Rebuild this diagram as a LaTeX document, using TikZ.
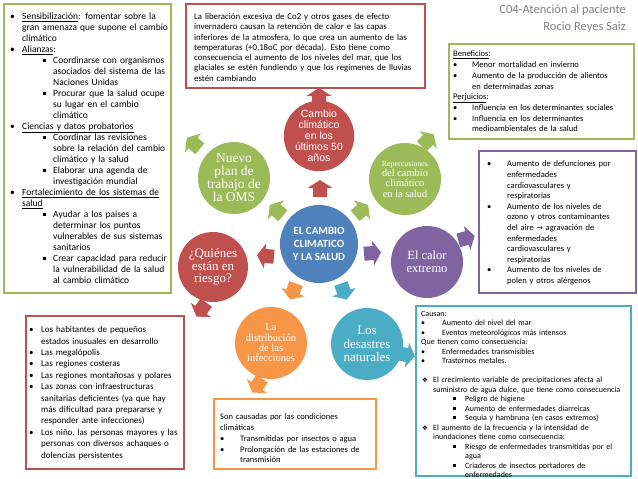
\documentclass[tikz,border=0pt]{standalone}
\usepackage{fontspec}
\setmainfont{Carlito}
\newfontfamily\tms{Liberation Serif}
\newfontfamily\arl{Liberation Sans}
\newfontfamily\djv{DejaVu Sans}
\definecolor{redc}{HTML}{C0504D}
\definecolor{grnc}{HTML}{9BBB59}
\definecolor{bluc}{HTML}{4F81BD}
\definecolor{purc}{HTML}{8064A2}
\definecolor{orac}{HTML}{F79646}
\definecolor{tealc}{HTML}{4BACC6}
\newcommand\lin[2]{\par\noindent\hspace*{#1pt}#2}
\newcommand\bul[1]{\makebox[#1pt][l]{\textbullet}}
\newcommand\sqb[1]{\makebox[#1pt][l]{\rule[1.3pt]{3pt}{3pt}}}
\newcommand\dia[1]{\makebox[#1pt][l]{\djv\fontsize{6.5}{6.5}\selectfont ❖}}
\tikzset{
  frame/.style={draw=#1,line width=1.8pt,fill=white,inner sep=0pt,anchor=north west},
  txt/.style={anchor=north west,inner sep=0pt,text width=#1},
  circ/.style={circle,fill=#1,text=white,inner sep=0pt,align=center},
  blkarr/.pic={\fill[#1] (-9,-7) -- (0,-7) -- (0,-12.5) -- (8,0) -- (0,12.5) -- (0,7) -- (-9,7) -- cycle;},
}
\begin{document}
\begin{tikzpicture}[x=1pt,y=1pt]
  \useasboundingbox (0,0) rectangle (638,-479);
  % arrows
  \pic[rotate=90] at (320,-188) {blkarr=redc};
  \pic[rotate=90] at (319,-96) {blkarr=redc};
  \pic[rotate=140] at (276,-210) {blkarr=grnc};
  \pic[rotate=140] at (193,-143) {blkarr=grnc};
  \pic[rotate=40] at (362,-210) {blkarr=grnc};
  \pic[rotate=45] at (428,-140) {blkarr=grnc};
  \pic[rotate=175] at (265,-256) {blkarr=redc};
  \pic[rotate=235] at (201,-310) {blkarr=redc};
  \pic[rotate=5] at (373,-253) {blkarr=purc};
  \pic[rotate=15] at (467,-238) {blkarr=purc};
  \pic[rotate=-110] at (293,-292) {blkarr=orac};
  \pic[rotate=-125] at (257,-386) {blkarr=orac};
  \pic[rotate=-70] at (344,-292) {blkarr=tealc};
  \pic[rotate=-10] at (407,-355) {blkarr=tealc};
  % circles
  \node[circ=bluc,minimum size=78,font=\bfseries\fontsize{11}{13}\selectfont] (salud) at (319,-244) {EL CAMBIO\\CLIMATICO\\Y LA SALUD};
  \node[circ=redc,minimum size=70,font=\arl\fontsize{10.5}{11}\selectfont] (ult) at (319,-136) {Cambio\\climático\\en los\\últimos 50\\años};
  \node[circ=grnc,minimum size=72,font=\tms\fontsize{13.5}{13}\selectfont] (oms) at (234,-178) {Nuevo\\plan de\\trabajo de\\la OMS};
  \node[circ=grnc,minimum size=72,font=\tms\fontsize{10.4}{10.3}\selectfont] (reper) at (405,-179) {{\fontsize{7.9}{10}\selectfont Repercusiones}\\del cambio\\climático\\en la salud};
  \node[circ=redc,minimum size=70,font=\tms\fontsize{13}{12.5}\selectfont] (riesgo) at (213,-267) {¿Quiénes\\están en\\riesgo?};
  \node[circ=purc,minimum size=72,font=\tms\fontsize{12.5}{13}\selectfont] (calor) at (427,-262) {El calor\\extremo};
  \node[circ=orac,minimum size=72,font=\tms\fontsize{10.5}{10.3}\selectfont] (infec) at (271,-343) {La\\distribución\\de las\\infecciones};
  \node[circ=tealc,minimum size=72,font=\tms\fontsize{13}{13.5}\selectfont] (desas) at (367,-344) {Los\\desastres\\naturales};
  % boxes
  \node[frame=grnc,minimum width=167,minimum height=289] (oms box) at (3,-3) {};
  \node[frame=redc,minimum width=239,minimum height=84] (ult box) at (185,-3) {};
  \node[frame=grnc,minimum width=185,minimum height=95] (reper box) at (448,-43) {};
  \node[frame=purc,minimum width=157,minimum height=142] (calor box) at (478,-150) {};
  \node[frame=redc,minimum width=158,minimum height=153] (riesgo box) at (25,-315) {};
  \node[frame=orac,minimum width=162,minimum height=70] (infec box) at (213,-398) {};
  \node[frame=tealc,minimum width=215,minimum height=170] (desas box) at (415,-305) {};
  % texts
  \node[anchor=north east,inner sep=0pt,align=right,text=black!50,font=\fontsize{12.5}{17}\selectfont] (title) at (626,-5) {C04-Atención al paciente\\Rocio Reyes Saiz};
  \node[txt=158pt,font=\fontsize{9.5}{11}\selectfont] (oms text) at (10,-8.5) {%
    \lin{0}{\bul{12}\underline{Sensibilización}: fomentar sobre la}
    \lin{12}{gran amenaza que supone el cambio}
    \lin{12}{climático}
    \lin{0}{\bul{12}\underline{Alianzas}:}
    \lin{33}{\sqb{10}Coordinarse con organismos}
    \lin{43}{asociados del sistema de las}
    \lin{43}{Naciones Unidas}
    \lin{33}{\sqb{10}Procurar que la salud ocupe}
    \lin{43}{su lugar en el cambio}
    \lin{43}{climático}
    \lin{0}{\bul{12}\underline{Ciencias y datos probatorios}}
    \lin{33}{\sqb{10}Coordinar las revisiones}
    \lin{43}{sobre la relación del cambio}
    \lin{43}{climático y la salud}
    \lin{33}{\sqb{10}Elaborar una agenda de}
    \lin{43}{investigación mundial}
    \lin{0}{\bul{12}\underline{Fortalecimiento de los sistemas de}}
    \lin{12}{\underline{salud}}
    \lin{33}{\sqb{10}Ayudar a los países a}
    \lin{43}{determinar los puntos}
    \lin{43}{vulnerables de sus sistemas}
    \lin{43}{sanitarios}
    \lin{33}{\sqb{10}Crear capacidad para reducir}
    \lin{43}{la vulnerabilidad de la salud}
    \lin{43}{al cambio climático}};
  \node[txt=240pt,font=\fontsize{8.8}{10.3}\selectfont] (ult text) at (194,-9) {%
    \lin{0}{La liberación excesiva de Co2 y otros gases de efecto}
    \lin{0}{invernadero causan la retención de calor e las capas}
    \lin{0}{inferiores de la atmosfera, lo que crea un aumento de las}
    \lin{0}{temperaturas (+0,18oC por década). Esto tiene como}
    \lin{0}{consecuencia el aumento de los niveles del mar, que los}
    \lin{0}{glaciales se estén fundiendo y que los regimenes de lluvias}
    \lin{0}{estén cambiando}};
  \node[txt=185pt,font=\fontsize{8.5}{10.7}\selectfont] (reper text) at (453,-46) {%
    \lin{0}{\underline{Beneficios}:}
    \lin{0}{\bul{19}Menor mortalidad en invierno}
    \lin{0}{\bul{19}Aumento de la producción de alientos}
    \lin{19}{en determinadas zonas}
    \lin{0}{\underline{Perjuicios}:}
    \lin{0}{\bul{19}Influencia en los determinantes sociales}
    \lin{0}{\bul{19}Influencia en los determinantes}
    \lin{19}{medioambientales de la salud}};
  \node[txt=150pt,font=\fontsize{8.5}{10.6}\selectfont] (calor text) at (487,-156) {%
    \lin{0}{\bul{20}Aumento de defunciones por}
    \lin{20}{enfermedades}
    \lin{20}{cardiovasculares y}
    \lin{20}{respiratorias}
    \lin{0}{\bul{20}Aumento de los niveles de}
    \lin{20}{ozono y otros contaminantes}
    \lin{20}{del aire {\djv\fontsize{7.5}{9}\selectfont →} agravación de}
    \lin{20}{enfermedades}
    \lin{20}{cardiovasculares y}
    \lin{20}{respiratorias}
    \lin{0}{\bul{20}Aumento de los niveles de}
    \lin{20}{polen y otros alérgenos}};
  \node[txt=155pt,font=\fontsize{9}{11.4}\selectfont] (riesgo text) at (29,-321) {%
    \lin{0}{\bul{12}Los habitantes de pequeños}
    \lin{12}{estados inusuales en desarrollo}
    \lin{0}{\bul{12}Las megalópolis}
    \lin{0}{\bul{12}Las regiones costeras}
    \lin{0}{\bul{12}Las regiones montañosas y polares}
    \lin{0}{\bul{12}Las zonas con infraestructuras}
    \lin{12}{sanitarias deficientes (ya que hay}
    \lin{12}{más dificultad para prepararse y}
    \lin{12}{responder ante infecciones)}
    \lin{0}{\bul{12}Los niño, las personas mayores y las}
    \lin{12}{personas con diversos achaques o}
    \lin{12}{dolencias persistentes}};
  \node[txt=155pt,font=\fontsize{8.5}{10.75}\selectfont] (infec text) at (220,-409) {%
    \lin{0}{Son causadas por las condiciones}
    \lin{0}{climáticas}
    \lin{0}{\bul{20}Transmitidas por insectos o agua}
    \lin{0}{\bul{20}Prolongación de las estaciones de}
    \lin{20}{transmisión}};
  \node[txt=215pt,font=\fontsize{8}{9.5}\selectfont] (desas text) at (421,-306.5) {%
    \lin{0}{Causan:}
    \lin{0}{\bul{21}Aumento del nivel del mar}
    \lin{0}{\bul{21}Eventos meteorológicos más intensos}
    \lin{0}{Que tienen como consecuencia:}
    \lin{0}{\bul{21}Enfermedades transmisibles}
    \lin{0}{\bul{21}Trastornos metales.}
    \lin{0}{\mbox{}}
    \lin{1}{\dia{11}El crecimiento variable de precipitaciones afecta al}
    \lin{12}{suministro de agua dulce, que tiene como consecuencia}
    \lin{32}{\sqb{12}Peligro de higiene}
    \lin{32}{\sqb{12}Aumento de enfermedades diarreicas}
    \lin{32}{\sqb{12}Sequia y hambruna (en casos extremos)}
    \lin{1}{\dia{11}El aumento de la frecuencia y la intensidad de}
    \lin{12}{inundaciones tiene como consecuencia:}
    \lin{32}{\sqb{12}Riesgo de enfermedades transmitidas por el}
    \lin{44}{agua}
    \lin{32}{\sqb{12}Criaderos de insectos portadores de}
    \lin{44}{enfermedades}};
\end{tikzpicture}
\end{document}
